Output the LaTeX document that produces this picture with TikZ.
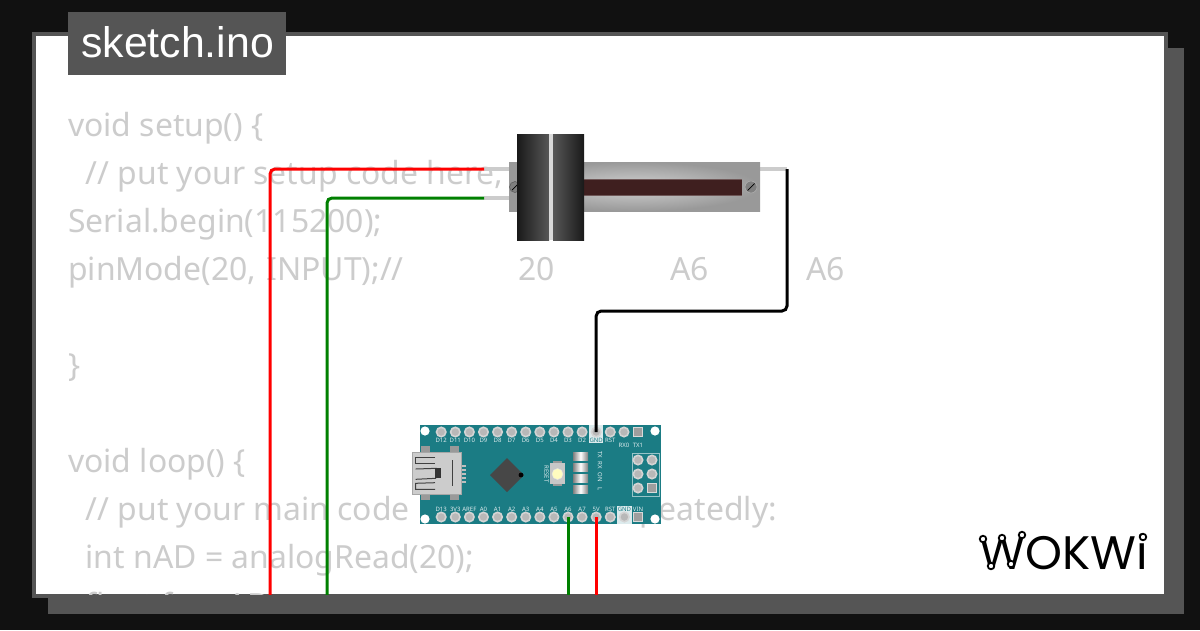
\documentclass[tikz,border=0pt]{standalone}
\usepackage{fontspec}
\setmainfont{Noto Sans}
\newfontfamily\tabfont{Liberation Sans}
\newfontfamily\logofont{Poppins}

\definecolor{frameback}{HTML}{111111}
\definecolor{framegray}{HTML}{555555}
\definecolor{codegray}{HTML}{CCCCCC}
\definecolor{boardteal}{HTML}{1B7C84}
\definecolor{wiregreen}{HTML}{008000}
\definecolor{slotbrown}{HTML}{3F1F1F}

\tikzset{
    codeline/.style={anchor=base west, inner sep=0pt, text=codegray, font=\fontsize{31.9}{32}\selectfont},
    wire/.style={line width=3pt, rounded corners=5pt},
    potpin/.style={line width=4pt, codegray},
    boardpin/.style={circle, fill=black!28, draw=black!17, line width=1.6pt, inner sep=0pt, minimum size=9.4pt},
    squarepin/.style={rectangle, fill=black!38, draw=black!15, line width=1.8pt, inner sep=0pt, minimum size=9pt},
    silk/.style={inner sep=0pt, text=white!85!boardteal, font=\bfseries\fontsize{6}{6}\selectfont},
    ledbox/.style={rectangle, left color=black!50, right color=black!50, middle color=white, inner sep=0pt, minimum width=15pt, minimum height=8pt},
    logoring/.style={circle, draw=black, fill=white, line width=1.8pt, inner sep=0pt, minimum size=6.5pt},
    usbline/.style={black!75, line width=1pt}
}

\begin{document}
\begin{tikzpicture}[x=1pt,y=-1pt]

    % frame
    \fill[frameback] (0,0) rectangle (1200,630);
    \useasboundingbox (0,0) rectangle (1200,630);
    \fill[framegray] (48,48) rectangle (1184,614);
    \fill[framegray] (32,32) rectangle (1168,598);
    \fill[white] (36,36) rectangle (1164,594);

    \begin{scope}
    \clip (36,36) rectangle (1164,594);

    % code
    \node[codeline] (lineSetup) at (68,136) {void setup() \{};
    \node[codeline] (lineComment) at (85.5,184) {// put your setup code here,};
    \node[codeline] (lineSerial) at (68,232) {Serial.begin(115200);};
    \node[codeline] (linePinMode) at (68,280) {pinMode(20,\hspace{2pt} INPUT);//};
    \node[codeline] (lineTwenty) at (518,280) {20};
    \node[codeline] (lineAsix) at (670,280) {A6};
    \node[codeline] (lineAsixB) at (806,280) {A6};
    \node[codeline] (lineClose) at (68,376) {\}};
    \node[codeline] (lineLoop) at (68,472) {void loop() \{};
    \node[codeline] (lineMain) at (85.5,520) {// put your main code};
    \node[codeline] (lineRepeat) at (639,520) {peatedly:};
    \node[codeline] (lineRead) at (85.5,568) {int nAD = analogRead(20);};
    \node[codeline] (lineFloat) at (85.5,616) {float f = nAD;};

    % slide potentiometer
    \draw[potpin] (484,169) -- (510,169);
    \draw[potpin] (484,198) -- (510,198);
    \draw[potpin] (760,169) -- (787,169);
    \shade[inner color=black!18, outer color=black!40] (509,162) rectangle (760,211);
    \fill[black!50, draw=black!65, line width=0.5pt] (515,187) circle (5.5);
    \draw[black, line width=0.7pt] (512,190) -- (518,184);
    \fill[black!50, draw=black!30, line width=0.5pt] (751,187) circle (6);
    \draw[black, line width=0.7pt] (747.5,190.5) -- (754.5,183.5);
    \fill[slotbrown!75!white] (584,178.5) rectangle (742,196);
    \fill[slotbrown] (584,179.5) rectangle (742,195);
    \shade[left color=black!90, right color=black!66] (517,134) rectangle (549,240);
    \shade[left color=black!66, right color=black!90] (553,134) rectangle (584,240);
    \fill[black!15] (549,134) rectangle (553,240);

    % board
    \fill[boardteal] (420,425) rectangle (661,524);
    \fill[white] (425,431) circle (4.6);
    \fill[white] (655,431) circle (4.6);
    \fill[white] (425,519) circle (4.6);
    \fill[white] (655,519) circle (4.6);
    \fill[white!85!boardteal] (589,425) rectangle (603,443);
    \fill[white!85!boardteal] (617,506) rectangle (632,524);

    % top and bottom pin rows
    \foreach \i/\pinname in {0/D12,1/D11,2/D10,3/D9,4/D8,5/D7,6/D6,7/D5,8/D4,9/D3,10/D2,11/GND,12/RST}
        \node[boardpin] (top\pinname) at ({441.2+14.09*\i},432) {};
    \foreach \i/\pinname in {0/D12,1/D11,2/D10,3/D9,4/D8,5/D7,6/D6,7/D5,8/D4,9/D3,10/D2,12/RST}
        \node[silk] (topLabel\pinname) at ({441.2+14.09*\i},440) {\pinname};
    \node[silk, text=boardteal] (topLabelGND) at (596.2,440) {GND};
    \node[boardpin] (topRX) at (624,432) {};
    \node[squarepin] (topTX) at (638,432) {};
    \node[silk] (labelRX) at (624,445) {RX0};
    \node[silk] (labelTX) at (638,445) {TX1};
    \foreach \i/\pinname in {0/D13,1/3V3,2/AREF,3/A0,4/A1,5/A2,6/A3,7/A4,8/A5,9/A6,10/A7,11/5V,12/RST,13/GND}
        \node[boardpin] (bot\pinname) at ({441.2+14.09*\i},517) {};
    \foreach \i/\pinname in {0/D13,1/3V3,2/AREF,3/A0,4/A1,5/A2,6/A3,7/A4,8/A5,9/A6,10/A7,11/5V,12/RST}
        \node[silk] (botLabel\pinname) at ({441.2+14.09*\i},509) {\pinname};
    \node[silk, text=boardteal] (botLabelGND) at (624.4,509) {GND};
    \node[squarepin] (botVIN) at (638,517) {};
    \node[silk] (labelVIN) at (638,509) {VIN};

    % usb socket
    \fill[black!40] (421,446) rectangle (430,453);
    \fill[black!40] (450,446) rectangle (459,453);
    \fill[black!40] (421,494) rectangle (430,500);
    \fill[black!40] (450,494) rectangle (459,500);
    \foreach \y in {466,470,474,478,482}
        \draw[black!25, line width=1.4pt] (461,\y) -- (466,\y);
    \fill[black!20, draw=black!35, line width=0.8pt] (412,452) rectangle (461,494);
    \draw[usbline] (452.7,460) -- (452.7,486);
    \draw[usbline] (435,457.7) -- (415.7,457.7) -- (415.7,463.3) -- (435,463.3);
    \draw[usbline] (415.7,469) -- (437,468.3);
    \draw[usbline] (415.7,479.3) -- (436,478.3);
    \draw[usbline] (435,482.7) -- (415.7,483.3) -- (415.7,489.3) -- (435,489.3);
    \fill[black!80] (435,468.3) rectangle (441,478.3);

    % chip
    \fill[black!72] (507,458) -- (524,475) -- (507,492) -- (490,475) -- cycle;
    \fill[black] (521,475) circle (2.4);

    % reset
    \fill[black!22] (550,463) rectangle (565,484);
    \fill[black!40] (553,461) rectangle (562,463);
    \fill[black!40] (553,484) rectangle (562,486);
    \fill[yellow!25!white, draw=black!10] (557.5,474) circle (5.5);
    \node[silk, rotate=-90] (labelReset) at (546.5,474) {RESET};

    % leds
    \node[ledbox] (ledTX) at (580.5,456) {};
    \node[ledbox] (ledRX) at (580.5,467) {};
    \node[ledbox] (ledON) at (580.5,478) {};
    \node[ledbox] (ledL) at (580.5,489) {};
    \node[silk, rotate=-90] (labelTXled) at (600,455) {TX};
    \node[silk, rotate=-90] (labelRXled) at (600,465) {RX};
    \node[silk, rotate=-90] (labelONled) at (600,477) {ON};
    \node[silk, rotate=-90] (labelLled) at (600,489) {L};

    % icsp header
    \draw[white!55!boardteal, line width=0.8pt] (632,453) rectangle (659,496);
    \node[boardpin] (icspA) at (638,460) {};
    \node[boardpin] (icspB) at (652,460) {};
    \node[boardpin] (icspC) at (638,474) {};
    \node[boardpin] (icspD) at (652,474) {};
    \node[boardpin] (icspE) at (638,488) {};
    \node[squarepin] (icspF) at (652,488) {};

    % wires
    \coordinate (potLeftA) at (484,169);
    \coordinate (potLeftB) at (484,198);
    \coordinate (potRight) at (787,169);
    \coordinate (redEdge) at (270,600);
    \coordinate (greenEdge) at (327,600);
    \coordinate (boardEdge) at (0,600);
    \coordinate (blackBend) at (0,311);
    \draw[wire, red] (potLeftA) -- (270,169) -- (redEdge);
    \draw[wire, wiregreen] (potLeftB) -- (327,198) -- (greenEdge);
    \draw[wire, red] (bot5V.center) -- (bot5V.center |- boardEdge);
    \draw[wire, wiregreen] (botA6.center) -- (botA6.center |- boardEdge);
    \draw[wire, black] (potRight) -- (787,311) -- (topGND.center |- blackBend) -- (topGND.center);
    \end{scope}

    % tab and logo
    \fill[framegray] (68,12) rectangle (286,75);
    \node[inner sep=0pt, anchor=base west, text=white, font=\tabfont\fontsize{42.8}{42.8}\selectfont] (tabTitle) at (81,57) {sketch.ino};
    \node[inner sep=0pt, anchor=base west, text=black, font=\logofont\fontsize{47}{47}\selectfont] (logoText) at (979,569) {WOKWi};
    \node[logoring] (ringA) at (983,539) {};
    \node[logoring] (ringB) at (1002,538) {};
    \node[logoring] (ringC) at (1022,535) {};
    \node[logoring] (ringD) at (991,566) {};
    \node[logoring] (ringE) at (1011,564) {};
    \node[logoring] (ringF) at (1143,537) {};

\end{tikzpicture}
\end{document}
